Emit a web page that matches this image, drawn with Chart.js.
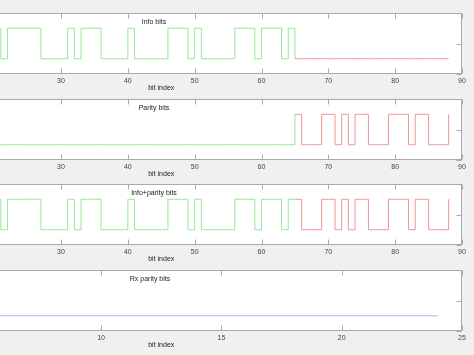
<!DOCTYPE html>
<html><head><meta charset="utf-8">
<script src="https://cdn.jsdelivr.net/npm/chart.js@4/dist/chart.umd.min.js"></script>
<style>
html,body{margin:0;padding:0;background:#f0f0f0;}
#wrap{position:relative;width:474px;height:355px;overflow:hidden;background:#f0f0f0;}
canvas{position:absolute;left:-150px;}
</style></head><body>
<div id="wrap">
<canvas id="c1" width="624" height="81" style="top:11px"></canvas>
<canvas id="c2" width="624" height="81" style="top:97px"></canvas>
<canvas id="c3" width="624" height="81" style="top:182px"></canvas>
<canvas id="c4" width="624" height="81" style="top:268px"></canvas>
</div>
<script>
// ---- data ----
const infoStart = 20;           // first bit index visible in the crop
const infoLength = 64;          // number of info bits
const infoBits = [1,0,1,1,1,1,1,0,0,0,0,1,0,1,1,1,0,0,0,0,1,0,0,0,0,0,1,1,1,0,1,0,0,0,0,0,1,1,1,0,1,1,1,0,1];
const parityStart = 65;
const parityBits = [1,0,0,0,1,1,0,1,0,1,1,0,0,0,1,1,1,0,1,1,0,0,0,1];
const rxStart = 1;
const rxParityBits = [0,0,0,0,0,0,0,0,0,0,0,0,0,0,0,0,0,0,0,0,0,0,0,0];
const titles = ['Info bits', 'Parity bits', 'Info+parity bits', 'Rx parity bits'];
const xLabel = 'bit index';
const xRanges = [[0,90,10],[0,90,10],[0,90,10],[0,25,5]];

const GREEN = 'rgb(150,232,150)', RED = 'rgb(240,150,150)', PURPLE = 'rgb(185,175,235)';
const FONT = '"Liberation Sans", Arial, Helvetica, sans-serif';
Chart.defaults.font.family = FONT;

function toPoints(start, bits, endVal) {
  const pts = bits.map((b, i) => ({x: start + i, y: b}));
  if (endVal !== undefined) pts.push({x: start + bits.length, y: endVal});
  return pts;
}
const zeros = n => new Array(n).fill(0);

const panels = [
  [ {d: toPoints(infoStart, infoBits, 0), c: GREEN}, {d: toPoints(parityStart, zeros(parityBits.length)), c: RED} ],
  [ {d: toPoints(1, zeros(infoLength), parityBits[0]), c: GREEN}, {d: toPoints(parityStart, parityBits), c: RED} ],
  [ {d: toPoints(infoStart, infoBits, parityBits[0]), c: GREEN}, {d: toPoints(parityStart, parityBits), c: RED} ],
  [ {d: toPoints(rxStart, rxParityBits), c: PURPLE} ]
];
const titleCx = [154, 154, 154, 150];

const boxPlugin = {
  id: 'box',
  beforeDraw(chart) {
    const {ctx, chartArea: a} = chart;
    ctx.save(); ctx.fillStyle = '#ffffff';
    ctx.fillRect(a.left, a.top, a.right - a.left, a.bottom - a.top);
    ctx.restore();
  },
  afterDraw(chart, args, opts) {
    const {ctx, chartArea: a, scales: {x, y}} = chart;
    ctx.save();
    ctx.strokeStyle = '#aaaaaa'; ctx.lineWidth = 1;
    const L = Math.round(a.left) + 0.5, R = Math.round(a.right) - 0.5, T = Math.round(a.top) + 0.5, B = Math.round(a.bottom) - 0.5;
    ctx.strokeRect(L, T, R - L, B - T);
    ctx.beginPath();
    x.ticks.forEach(t => { const px = Math.round(x.getPixelForValue(t.value)) + 0.5;
      ctx.moveTo(px, B); ctx.lineTo(px, B - 5); ctx.moveTo(px, T); ctx.lineTo(px, T + 5); });
    y.ticks.forEach(t => { const py = Math.round(y.getPixelForValue(t.value)) + 0.5;
      ctx.moveTo(R, py); ctx.lineTo(R - 5, py); });
    ctx.stroke();
    ctx.fillStyle = '#222'; ctx.font = '7px ' + FONT; ctx.textAlign = 'center'; ctx.textBaseline = 'middle';
    ctx.fillText(opts.text, opts.cx + 150, a.top + 9.5);
    ctx.restore();
  }
};

panels.forEach((sets, i) => {
  const [xmin, xmax, step] = xRanges[i];
  new Chart(document.getElementById('c' + (i + 1)), {
    type: 'line',
    data: { datasets: sets.map(s => ({ data: s.d, borderColor: s.c, borderWidth: 1, pointRadius: 0, stepped: 'before', fill: false, tension: 0 })) },
    options: {
      responsive: false, animation: false, devicePixelRatio: 1,
      layout: { padding: { left: 10.5, right: 12, top: 2, bottom: 0 } },
      plugins: { legend: {display: false}, tooltip: {enabled: false}, box: {text: titles[i], cx: titleCx[i]} },
      scales: {
        x: { type: 'linear', min: xmin, max: xmax,
             ticks: { stepSize: step, padding: 3, color: '#444', font: {size: 7}, maxRotation: 0, autoSkip: false },
             grid: { display: false, drawTicks: false }, border: { display: false },
             title: { display: true, text: xLabel, color: '#222', font: {size: 7}, padding: 0 },
             afterFit(s) { s.height = 18; } },
        y: { display: false, min: -0.5, max: 1.5, ticks: { stepSize: 0.5 } }
      }
    },
    plugins: [boxPlugin]
  });
});
</script>
</body></html>
